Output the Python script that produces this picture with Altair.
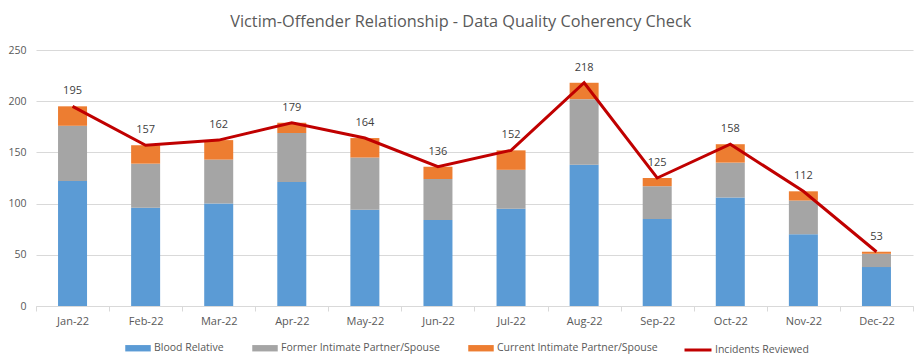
import altair as alt
import pandas as pd

months = ["Jan-22", "Feb-22", "Mar-22", "Apr-22", "May-22", "Jun-22",
          "Jul-22", "Aug-22", "Sep-22", "Oct-22", "Nov-22", "Dec-22"]
blood_relative = [122, 96, 100, 121, 94, 84, 95, 138, 85, 106, 70, 38]
former_partner = [54, 43, 43, 48, 51, 40, 38, 64, 32, 34, 33, 13]
current_partner = [19, 18, 19, 10, 19, 12, 19, 16, 8, 18, 9, 2]
incidents_reviewed = [195, 157, 162, 179, 164, 136, 152, 218, 125, 158, 112, 53]

bar_series = ["Blood Relative", "Former Intimate Partner/Spouse",
              "Current Intimate Partner/Spouse"]
bar_colors = ["#5B9BD5", "#A5A5A5", "#ED7D31"]
line_series = "Incidents Reviewed"
line_color = "#C00000"

rows = []
for i, m in enumerate(months):
    for k, (name, vals) in enumerate(zip(bar_series,
                                         [blood_relative, former_partner, current_partner])):
        rows.append({"month": m, "series": name, "value": vals[i], "idx": k})
bars_df = pd.DataFrame(rows)
line_df = pd.DataFrame({"month": months, "incidents": incidents_reviewed,
                        "series": [line_series] * len(months)})

FONT = "Open Sans"
TEXT = "#595959"
rect_path = "M-1,-0.25L1,-0.25L1,0.25L-1,0.25Z"

x_enc = alt.X("month:N", sort=months, title=None,
              scale=alt.Scale(paddingInner=0, paddingOuter=0),
              axis=alt.Axis(labelAngle=0, tickBand="extent", domainColor="#D9D9D9",
                            tickColor="#D9D9D9", tickSize=5, labelPadding=4,
                            labelColor=TEXT, labelFontSize=11, labelFont=FONT,
                            grid=False))

y_scale = alt.Scale(domain=[0, 250])

bars = alt.Chart(bars_df).mark_bar(size=29).encode(
    x=x_enc,
    y=alt.Y("value:Q", stack="zero", scale=y_scale, title=None,
            axis=alt.Axis(values=list(range(0, 251, 25)), domain=False, ticks=False,
                          tickSize=0, labelPadding=10, gridColor="#D9D9D9",
                          labelColor=TEXT, labelFontSize=10.5, labelFont=FONT)),
    color=alt.Color("series:N", sort=bar_series,
                    scale=alt.Scale(domain=bar_series, range=bar_colors),
                    legend=alt.Legend(title=None, orient="none", direction="horizontal",
                                      legendX=89, legendY=285, columns=3,
                                      columnPadding=28, labelLimit=400, labelOffset=3,
                                      symbolType=rect_path, symbolSize=650,
                                      symbolStrokeWidth=0, labelFont=FONT,
                                      labelFontSize=10.5, labelColor=TEXT)),
    order=alt.Order("idx:Q"),
)

line = alt.Chart(line_df).mark_line(strokeWidth=3).encode(
    x=alt.X("month:N", sort=months),
    y=alt.Y("incidents:Q", scale=y_scale),
    stroke=alt.Stroke("series:N",
                      scale=alt.Scale(domain=[line_series], range=[line_color]),
                      legend=alt.Legend(title=None, orient="none", direction="horizontal",
                                        legendX=647, legendY=285, labelLimit=400,
                                        labelOffset=2, symbolType="stroke",
                                        symbolSize=729, symbolStrokeWidth=3,
                                        labelFont=FONT, labelFontSize=10.5,
                                        labelColor=TEXT)),
)

labels = alt.Chart(line_df).mark_text(dy=-15, fontSize=11, font=FONT, color="#404040").encode(
    x=alt.X("month:N", sort=months),
    y=alt.Y("incidents:Q", scale=y_scale),
    text=alt.Text("incidents:Q"),
)

chart = alt.layer(bars, line, labels).properties(
    width=877,
    height=256,
    title=alt.Title("Victim-Offender Relationship - Data Quality Coherency Check",
                    fontSize=16.3, font=FONT, fontWeight="normal", color=TEXT,
                    anchor="middle", frame="bounds", offset=15),
    autosize=alt.AutoSizeParams(type="none"),
    padding={"left": 28, "top": 42, "right": 2, "bottom": 54},
).resolve_legend(color="independent", stroke="independent").configure_view(stroke=None)

chart.save("out.html", embed_options={"renderer": "svg", "actions": False})
